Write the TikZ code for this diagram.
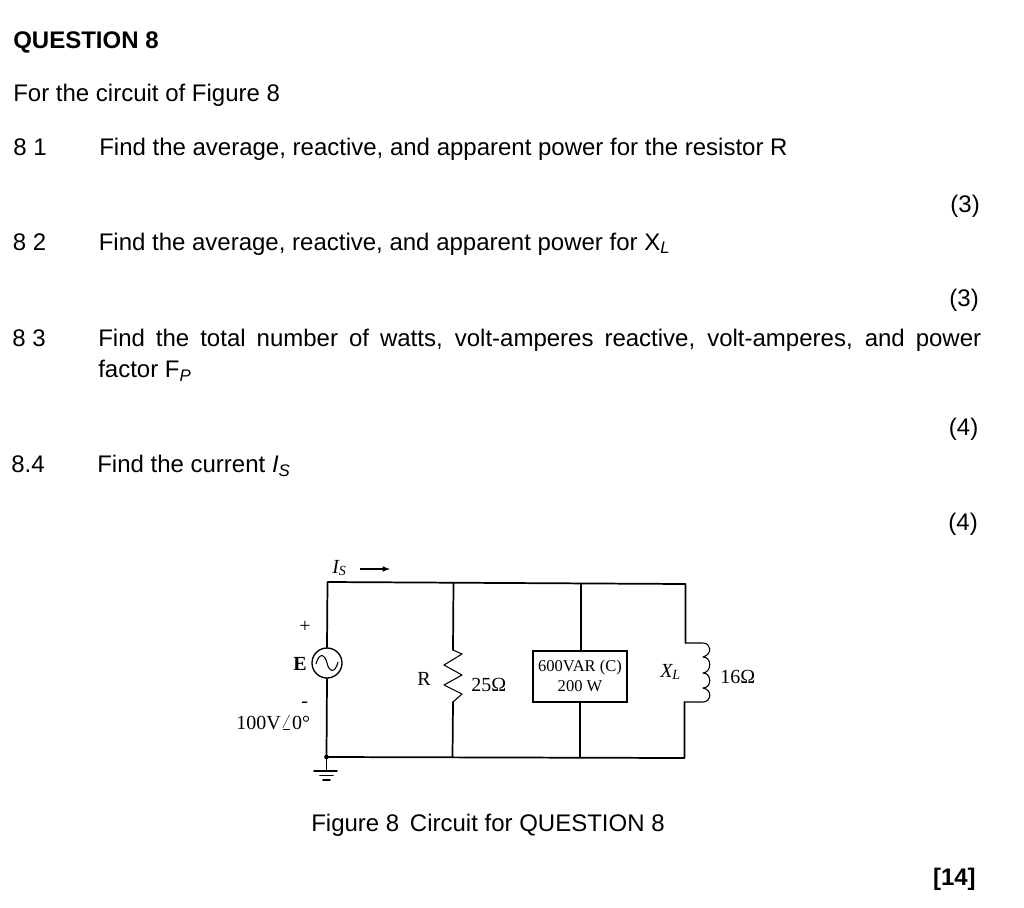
\documentclass[tikz,border=0pt]{standalone}
\usepackage{fontspec}
\setmainfont{Liberation Sans}
\newfontfamily\figfont{Liberation Serif}
\usetikzlibrary{positioning, calc, arrows.meta, arrows}
\newcommand{\subit}[1]{\textsubscript{\itshape #1}}
\tikzstyle{Wire} = [line width=1.3pt, line join=round, line cap=round]
\tikzstyle{Thin} = [line width=0.8pt, line join=round]

\begin{document}
\begin{tikzpicture}[
x=0.75pt, y=-0.75pt,
body/.style={
    anchor=base west,
    inner sep=0pt,
    font=\fontsize{18}{22}\selectfont
    },
marks/.style={body, anchor=base east},
fig/.style={
    anchor=base west,
    inner sep=0pt,
    font=\fontsize{15}{18}\figfont
    }
]

\useasboundingbox (0,0) rectangle (1024,907);

\node [body, font=\fontsize{18}{22}\selectfont\bfseries] (title) at (13,48) {QUESTION 8};
\node [body] (intro) at (13,101.5) {For the circuit of Figure 8};

\node [body] (n1) at (13,155) {8 1};
\node [body] (q1) at (99,155) {Find the average, reactive, and apparent power for the resistor R};
\node [marks] (m1) at (980,212) {(3)};

\node [body] (n2) at (12.5,250) {8 2};
\node [body] (q2) at (98.5,250) {Find the average, reactive, and apparent power for X\subit{L}};
\node [marks] (m2) at (979,306) {(3)};

\node [body] (n3) at (12,346) {8 3};
\node [body] (q3) at (98,346) {\makebox[662.25pt][s]{Find the total number of watts, volt-amperes reactive, volt-amperes, and power}};
\node [body] (q3b) at (98,377.5) {factor F\subit{P}};
\node [marks] (m3) at (978.5,435) {(4)};

\node [body] (n4) at (11,472.5) {8.4};
\node [body] (q4) at (97,472.5) {Find the current \textit{I}\subit{S}};
\node [marks] (m4) at (978,530) {(4)};

\node [body] (caption) at (311,831) {Figure 8\, Circuit for QUESTION 8};
\node [marks, font=\fontsize{18}{22}\selectfont\bfseries] (total) at (976,885) {[14]};

\coordinate (tl) at (327.5,582);
\coordinate (tr) at (685.5,584);
\coordinate (bl) at (326.5,757);
\coordinate (br) at (684.5,758);
\coordinate (rtop) at (453.5,583);
\coordinate (rbot) at (452.5,757);
\coordinate (btop) at (581,583.5);
\coordinate (bbot) at (580,757.5);
\coordinate (lin) at (685.5,643);
\coordinate (lout) at (684.5,702);
\coordinate (gnd) at (326.5,771);

\node [draw, circle, line width=1pt, minimum size=22.5pt, inner sep=0pt] (src) at (327,663) {};
\node [draw, line width=1.3pt, minimum width=70.5pt, minimum height=38pt, inner sep=0pt] (load) at (580,676.5) {};
\node [circle, fill, minimum size=3.5pt, inner sep=0pt] (jnc) at (bl) {};

\draw [Wire] (src.north) -- (tl) -- (tr) -- (lin);
\draw [Wire] (src.south) -- (bl) -- (br) -- (lout);
\draw [Wire] (rtop) -- (453,650);
\draw [Wire] (453,702) -- (rbot);
\draw [Wire] (btop) -- (load.north -| btop);
\draw [Wire] (load.south -| bbot) -- (bbot);
\draw [Wire] (bl) -- (gnd);

\draw [Thin] (453,650) -- (462,654) -- (444,665) -- (462,675) -- (444,685) -- (462,694) -- (453,702);

\draw [Thin] (lin) -- (703,643)
    .. controls (711,643) and (713,654) .. (703,657)
    .. controls (712,657) and (712,672) .. (703,673)
    .. controls (712,673) and (712,688) .. (703,688)
    .. controls (713,690) and (711,702) .. (703,702) -- (lout);

\draw [Thin] (316,664) .. controls (319,652) and (325,654) .. (327,663)
    .. controls (329,672) and (335,674) .. (338,662);

\draw [Wire] (314,771) -- (337,771);
\draw [Wire] (320,775.5) -- (333,775.5);
\draw [Wire] (323,780) -- (330,780);

\coordinate (arrowa) at (360,569);
\coordinate (arrowb) at (390,569);
\draw [-latex, line width=0.9pt] (arrowa) -- (arrowb);

\node [fig, font=\fontsize{15}{18}\figfont\itshape] (islabel) at (332,573) {I\subit{S}};
\node [fig] (plus) at (299,632) {+};
\node [fig, font=\fontsize{15}{18}\figfont\bfseries] (elabel) at (293,670) {E};
\node [fig] (minus) at (301,707) {-};
\node [fig] (volts) at (236,729) {100V$\angle$0°};
\node [fig] (rlabel) at (417,685) {R};
\node [fig] (rvalue) at (471,691) {25Ω};
\node [fig, anchor=base] (var) at (580,671) {\fontsize{12.4}{15}\selectfont 600VAR (C)};
\node [fig, anchor=base] (watt) at (580,691) {\fontsize{12.4}{15}\selectfont 200 W};
\node [fig, font=\fontsize{15}{18}\figfont\itshape] (xlabel) at (660,677) {X\subit{L}};
\node [fig] (lvalue) at (720,683) {16Ω};

\end{tikzpicture}
\end{document}
